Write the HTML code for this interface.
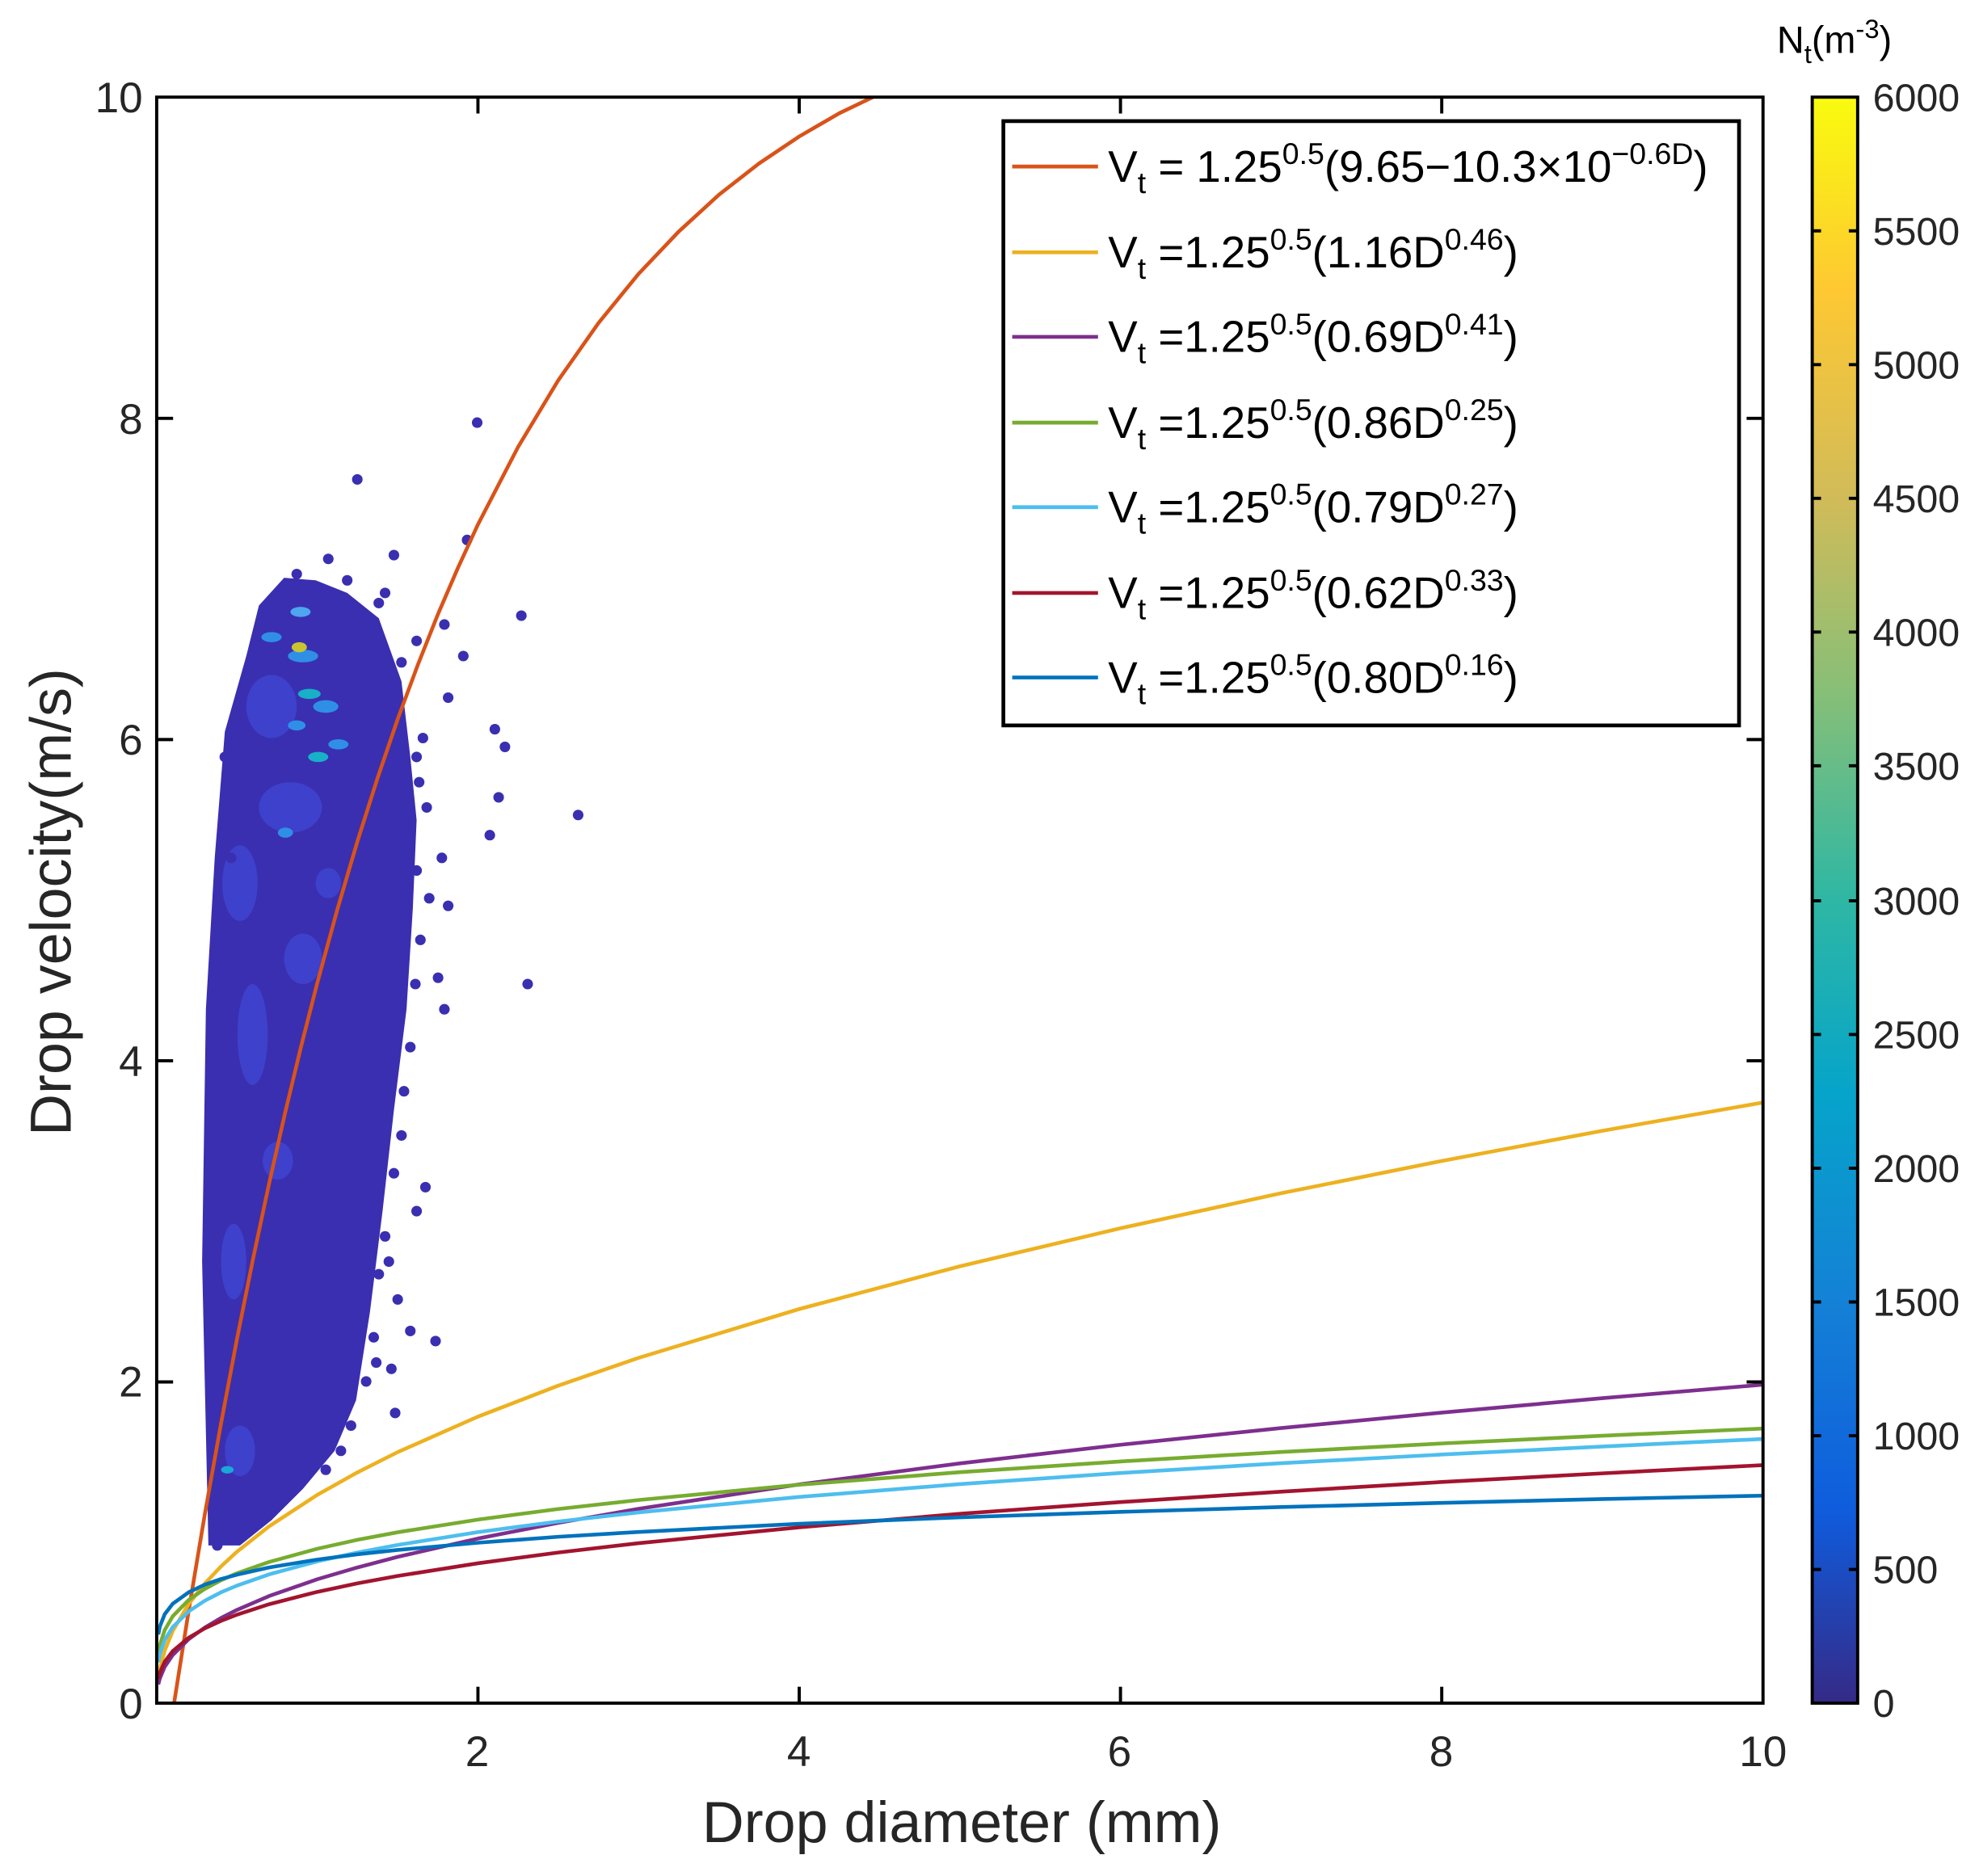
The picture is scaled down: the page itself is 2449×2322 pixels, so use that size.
<!DOCTYPE html>
<html><head><meta charset="utf-8"><style>
html,body{margin:0;padding:0;background:#fff;}
svg{display:block;font-family:"Liberation Sans",Arial,sans-serif;}
</style></head><body>
<svg width="2449" height="2322" viewBox="0 0 1568 1487" xmlns="http://www.w3.org/2000/svg">
<defs>
<linearGradient id="par" x1="0" y1="1" x2="0" y2="0">
<stop offset="0" stop-color="#352A87"/><stop offset="0.12" stop-color="#0F5CDD"/>
<stop offset="0.25" stop-color="#1481D6"/><stop offset="0.38" stop-color="#06A4CA"/>
<stop offset="0.5" stop-color="#2EB7A4"/><stop offset="0.63" stop-color="#87BF77"/>
<stop offset="0.75" stop-color="#D1BB59"/><stop offset="0.88" stop-color="#FEC832"/>
<stop offset="1" stop-color="#F9FB0E"/></linearGradient>
<clipPath id="cp"><rect x="124" y="77" width="1273" height="1273"/></clipPath>
</defs>

<!-- scatter -->
<g clip-path="url(#cp)">
<polygon points="165,1225 160,1000 163,800 170,680 178,580 195,520 205,480 225,458 250,460 275,470 300,490 318,540 325,600 330,650 327,720 322,800 312,880 303,960 293,1040 282,1110 265,1150 240,1180 215,1205 190,1225" fill="#3A2FB0"/>
<g fill="#4046D2" opacity="0.8">
<ellipse cx="190" cy="700" rx="14" ry="30"/><ellipse cx="230" cy="640" rx="25" ry="20"/>
<ellipse cx="200" cy="820" rx="12" ry="40"/><ellipse cx="240" cy="760" rx="15" ry="20"/>
<ellipse cx="185" cy="1000" rx="10" ry="30"/><ellipse cx="220" cy="920" rx="12" ry="15"/>
<ellipse cx="190" cy="1150" rx="12" ry="20"/><ellipse cx="260" cy="700" rx="10" ry="12"/>
<ellipse cx="215" cy="560" rx="20" ry="25"/>
</g>
<g fill="#2F8FE6">
<ellipse cx="240" cy="520" rx="12" ry="5"/><ellipse cx="258" cy="560" rx="10" ry="5"/>
<ellipse cx="215" cy="505" rx="8" ry="4"/><ellipse cx="268" cy="590" rx="8" ry="4"/>
<ellipse cx="235" cy="575" rx="7" ry="4"/><ellipse cx="226" cy="660" rx="6" ry="4"/>
<ellipse cx="245" cy="550" rx="9" ry="4" fill="#18B0C8"/><ellipse cx="252" cy="600" rx="8" ry="4" fill="#18B0C8"/>
<ellipse cx="238" cy="485" rx="8" ry="4" fill="#4DA6F0"/><ellipse cx="180" cy="1165" rx="5" ry="3" fill="#1AA8D8"/>
</g>
<ellipse cx="237" cy="513" rx="6" ry="4" fill="#C9C530"/>
<g fill="#3A2FB0">
<circle cx="378" cy="335" r="4.2"/><circle cx="283" cy="380" r="4.2"/><circle cx="312" cy="440" r="4.2"/>
<circle cx="260" cy="443" r="4.2"/><circle cx="235" cy="455" r="4.2"/><circle cx="370" cy="428" r="4.2"/>
<circle cx="413" cy="488" r="4.2"/><circle cx="352" cy="495" r="4.2"/><circle cx="367" cy="520" r="4.2"/>
<circle cx="330" cy="508" r="4.2"/><circle cx="355" cy="553" r="4.2"/><circle cx="392" cy="578" r="4.2"/>
<circle cx="400" cy="592" r="4.2"/><circle cx="330" cy="600" r="4.2"/><circle cx="395" cy="632" r="4.2"/>
<circle cx="350" cy="680" r="4.2"/><circle cx="458" cy="646" r="4.2"/><circle cx="388" cy="662" r="4.2"/>
<circle cx="340" cy="712" r="4.2"/><circle cx="355" cy="718" r="4.2"/><circle cx="347" cy="775" r="4.2"/>
<circle cx="352" cy="800" r="4.2"/><circle cx="418" cy="780" r="4.2"/><circle cx="325" cy="830" r="4.2"/>
<circle cx="337" cy="941" r="4.2"/><circle cx="330" cy="960" r="4.2"/><circle cx="300" cy="1010" r="4.2"/>
<circle cx="288" cy="1035" r="4.2"/><circle cx="315" cy="1030" r="4.2"/><circle cx="325" cy="1055" r="4.2"/>
<circle cx="310" cy="1085" r="4.2"/><circle cx="313" cy="1120" r="4.2"/><circle cx="345" cy="1063" r="4.2"/>
<circle cx="187" cy="586" r="4.2"/><circle cx="183" cy="680" r="4.2"/><circle cx="300" cy="478" r="4.2"/>
<circle cx="290" cy="500" r="4.2"/><circle cx="318" cy="525" r="4.2"/><circle cx="305" cy="470" r="4.2"/>
<circle cx="275" cy="460" r="4.2"/><circle cx="335" cy="585" r="4.2"/><circle cx="338" cy="640" r="4.2"/>
<circle cx="330" cy="690" r="4.2"/><circle cx="333" cy="745" r="4.2"/><circle cx="320" cy="865" r="4.2"/>
<circle cx="312" cy="930" r="4.2"/><circle cx="305" cy="980" r="4.2"/><circle cx="296" cy="1060" r="4.2"/>
<circle cx="290" cy="1095" r="4.2"/><circle cx="278" cy="1130" r="4.2"/><circle cx="258" cy="1165" r="4.2"/>
<circle cx="172" cy="1225" r="4.2"/><circle cx="178" cy="600" r="4.2"/><circle cx="170" cy="760" r="4.2"/>
<circle cx="200" cy="530" r="4.2"/><circle cx="225" cy="468" r="4.2"/>
<circle cx="332" cy="620" r="4.2"/><circle cx="329" cy="780" r="4.2"/><circle cx="318" cy="900" r="4.2"/>
<circle cx="308" cy="1000" r="4.2"/><circle cx="298" cy="1080" r="4.2"/><circle cx="270" cy="1150" r="4.2"/>
</g>
</g>

<!-- curves -->
<g clip-path="url(#cp)" fill="none" stroke-width="4.6" stroke-linejoin="round">
<g transform="translate(124,1350) scale(127.3,-127.3)">
<polyline vector-effect="non-scaling-stroke" stroke="#D95319" points="0,-0.727 0.1,-0.053 0.2,0.58 0.3,1.178 0.4,1.738 0.5,2.268 0.6,2.767 0.7,3.236 0.8,3.678 0.9,4.093 1,4.485 1.125,4.943 1.25,5.367 1.375,5.76 1.5,6.126 1.625,6.463 1.75,6.778 1.875,7.068 2,7.339 2.25,7.822 2.5,8.237 2.75,8.593 3,8.9 3.25,9.163 3.5,9.392 3.75,9.587 4,9.755 4.25,9.9 4.5,10.02"/>
<polyline vector-effect="non-scaling-stroke" stroke="#EDB120" points="0.01,0.156 0.02,0.214 0.05,0.327 0.1,0.45 0.2,0.619 0.3,0.745 0.4,0.851 0.5,0.943 0.7,1.101 1,1.297 1.25,1.437 1.5,1.563 2,1.784 2.5,1.977 3,2.15 4,2.454 5,2.72 6,2.957 7,3.175 8,3.376 9,3.564 10,3.74"/>
<polyline vector-effect="non-scaling-stroke" stroke="#7E2F8E" points="0.01,0.117 0.02,0.155 0.05,0.226 0.1,0.3 0.2,0.399 0.3,0.471 0.4,0.53 0.5,0.581 0.7,0.667 1,0.7715 1.25,0.845 1.5,0.911 2,1.025 2.5,1.123 3,1.21 4,1.362 5,1.493 6,1.609 7,1.713 8,1.809 9,1.899 10,1.983"/>
<polyline vector-effect="non-scaling-stroke" stroke="#77AC30" points="0.01,0.304 0.02,0.362 0.05,0.455 0.1,0.541 0.2,0.643 0.3,0.712 0.4,0.765 0.5,0.809 0.7,0.879 1,0.9615 1.25,1.017 1.5,1.064 2,1.143 2.5,1.209 3,1.265 4,1.36 5,1.438 6,1.505 7,1.564 8,1.617 9,1.665 10,1.71"/>
<polyline vector-effect="non-scaling-stroke" stroke="#4DBEEE" points="0.01,0.255 0.02,0.307 0.05,0.393 0.1,0.474 0.2,0.572 0.3,0.638 0.4,0.69 0.5,0.732 0.7,0.802 1,0.883 1.25,0.938 1.5,0.985 2,1.065 2.5,1.131 3,1.188 4,1.284 5,1.364 6,1.433 7,1.494 8,1.548 9,1.598 10,1.645"/>
<polyline vector-effect="non-scaling-stroke" stroke="#A2142F" points="0.01,0.152 0.02,0.191 0.05,0.258 0.1,0.324 0.2,0.408 0.3,0.466 0.4,0.512 0.5,0.551 0.7,0.616 1,0.693 1.25,0.746 1.5,0.792 2,0.871 2.5,0.938 3,0.996 4,1.095 5,1.179 6,1.252 7,1.317 8,1.377 9,1.431 10,1.482"/>
<polyline vector-effect="non-scaling-stroke" stroke="#0072BD" points="0.01,0.428 0.02,0.478 0.05,0.554 0.1,0.619 0.2,0.691 0.3,0.738 0.4,0.773 0.5,0.8 0.7,0.845 1,0.894 1.25,0.927 1.5,0.954 2,0.999 2.5,1.036 3,1.066 4,1.117 5,1.157 6,1.191 7,1.221 8,1.247 9,1.271 10,1.292"/>
</g>
</g>

<!-- axes -->
<g stroke="#000" stroke-width="2.5" fill="none">
<rect x="124" y="77" width="1273" height="1273"/>
<path d="M378.6,1350V1337M633.2,1350V1337M887.8,1350V1337M1142.4,1350V1337M378.6,77V90M633.2,77V90M887.8,77V90M1142.4,77V90"/>
<path d="M124,1095.4H137M124,840.8H137M124,586.2H137M124,331.6H137M1397,1095.4H1384M1397,840.8H1384M1397,586.2H1384M1397,331.6H1384"/>
</g>
<g font-size="34" fill="#262626">
<text x="113" y="1362" text-anchor="end">0</text>
<text x="113" y="1107" text-anchor="end">2</text>
<text x="113" y="853" text-anchor="end">4</text>
<text x="113" y="598" text-anchor="end">6</text>
<text x="113" y="344" text-anchor="end">8</text>
<text x="113" y="89" text-anchor="end">10</text>
<text x="378" y="1400" text-anchor="middle">2</text>
<text x="633" y="1400" text-anchor="middle">4</text>
<text x="887" y="1400" text-anchor="middle">6</text>
<text x="1142" y="1400" text-anchor="middle">8</text>
<text x="1397" y="1400" text-anchor="middle">10</text>
</g>
<text x="762" y="1460" font-size="46" text-anchor="middle" fill="#262626">Drop diameter (mm)</text>
<text transform="translate(56,715) rotate(-90)" font-size="46" text-anchor="middle" fill="#262626">Drop velocity(m/s)</text>

<!-- legend -->
<rect x="795" y="96" width="583" height="479" fill="#fff" stroke="#000" stroke-width="3"/>
<g stroke-width="3">
<line x1="802" y1="132" x2="870" y2="132" stroke="#D95319"/>
<line x1="802" y1="200" x2="870" y2="200" stroke="#EDB120"/>
<line x1="802" y1="267" x2="870" y2="267" stroke="#7E2F8E"/>
<line x1="802" y1="335" x2="870" y2="335" stroke="#77AC30"/>
<line x1="802" y1="402" x2="870" y2="402" stroke="#4DBEEE"/>
<line x1="802" y1="470" x2="870" y2="470" stroke="#A2142F"/>
<line x1="802" y1="537" x2="870" y2="537" stroke="#0072BD"/>
</g>
<g font-size="35" fill="#000">
<text x="878" y="144">V<tspan font-size="24" dy="9">t</tspan><tspan dy="-9"> = 1.25</tspan><tspan font-size="24" dy="-14">0.5</tspan><tspan dy="14">(9.65−10.3×10</tspan><tspan font-size="24" dy="-14">−0.6D</tspan><tspan dy="14">)</tspan></text>
<text x="878" y="212">V<tspan font-size="24" dy="9">t</tspan><tspan dy="-9"> =1.25</tspan><tspan font-size="24" dy="-14">0.5</tspan><tspan dy="14">(1.16D</tspan><tspan font-size="24" dy="-14">0.46</tspan><tspan dy="14">)</tspan></text>
<text x="878" y="279">V<tspan font-size="24" dy="9">t</tspan><tspan dy="-9"> =1.25</tspan><tspan font-size="24" dy="-14">0.5</tspan><tspan dy="14">(0.69D</tspan><tspan font-size="24" dy="-14">0.41</tspan><tspan dy="14">)</tspan></text>
<text x="878" y="347">V<tspan font-size="24" dy="9">t</tspan><tspan dy="-9"> =1.25</tspan><tspan font-size="24" dy="-14">0.5</tspan><tspan dy="14">(0.86D</tspan><tspan font-size="24" dy="-14">0.25</tspan><tspan dy="14">)</tspan></text>
<text x="878" y="414">V<tspan font-size="24" dy="9">t</tspan><tspan dy="-9"> =1.25</tspan><tspan font-size="24" dy="-14">0.5</tspan><tspan dy="14">(0.79D</tspan><tspan font-size="24" dy="-14">0.27</tspan><tspan dy="14">)</tspan></text>
<text x="878" y="482">V<tspan font-size="24" dy="9">t</tspan><tspan dy="-9"> =1.25</tspan><tspan font-size="24" dy="-14">0.5</tspan><tspan dy="14">(0.62D</tspan><tspan font-size="24" dy="-14">0.33</tspan><tspan dy="14">)</tspan></text>
<text x="878" y="549">V<tspan font-size="24" dy="9">t</tspan><tspan dy="-9"> =1.25</tspan><tspan font-size="24" dy="-14">0.5</tspan><tspan dy="14">(0.80D</tspan><tspan font-size="24" dy="-14">0.16</tspan><tspan dy="14">)</tspan></text>
</g>

<!-- colorbar -->
<rect x="1436" y="77" width="36" height="1273" fill="url(#par)" stroke="#000" stroke-width="2.5"/>
<path stroke="#000" stroke-width="2.5" d="M1436,1244h7M1436,1138h7M1436,1032h7M1436,926h7M1436,820h7M1436,714h7M1436,607h7M1436,501h7M1436,395h7M1436,289h7M1436,183h7M1472,1244h-7M1472,1138h-7M1472,1032h-7M1472,926h-7M1472,820h-7M1472,714h-7M1472,607h-7M1472,501h-7M1472,395h-7M1472,289h-7M1472,183h-7"/>
<g font-size="31" fill="#262626">
<text x="1484" y="1361">0</text><text x="1484" y="1255">500</text><text x="1484" y="1149">1000</text>
<text x="1484" y="1043">1500</text><text x="1484" y="937">2000</text><text x="1484" y="831">2500</text>
<text x="1484" y="725">3000</text><text x="1484" y="618">3500</text><text x="1484" y="512">4000</text>
<text x="1484" y="406">4500</text><text x="1484" y="300">5000</text><text x="1484" y="194">5500</text>
<text x="1484" y="88">6000</text>
</g>
<text x="1408" y="42" font-size="30" fill="#000">N<tspan font-size="21" dy="8">t</tspan><tspan dy="-8">(m</tspan><tspan font-size="21" dy="-12">-3</tspan><tspan dy="12">)</tspan></text>
</svg>
</body></html>
